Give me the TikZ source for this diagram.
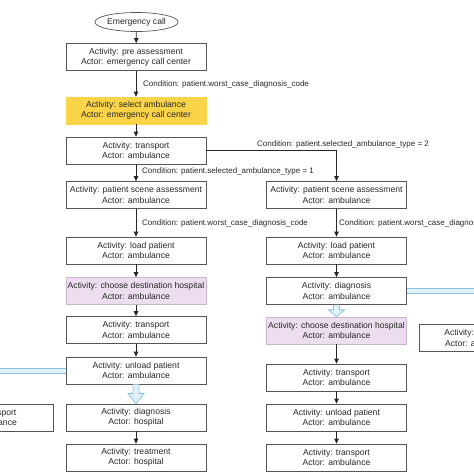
\documentclass[tikz,border=0pt]{standalone}
\usepackage{fontspec}
\setmainfont{Liberation Sans}
\usetikzlibrary{arrows.meta,shapes.geometric}
\definecolor{boxline}{RGB}{85,85,85}
\definecolor{txt}{RGB}{40,40,40}
\definecolor{yel}{RGB}{250,212,72}
\definecolor{lav}{RGB}{236,222,238}
\definecolor{lavline}{RGB}{200,180,205}
\definecolor{hol}{RGB}{140,195,228}
\definecolor{holfill}{RGB}{225,241,250}
\begin{document}
\begin{tikzpicture}[x=1pt,y=-1pt,
  act/.style={draw=boxline, line width=0.7pt, fill=white, minimum width=140pt,
    minimum height=27pt, inner sep=0pt, align=center,
    font=\fontsize{8.6}{10.4}\selectfont, text=txt},
  yelbox/.style={act, fill=yel, draw=yel},
  lavbox/.style={act, fill=lav, draw=lavline},
  startnode/.style={ellipse, draw=boxline, line width=0.7pt, minimum width=80pt,
    minimum height=19pt, inner sep=0pt, font=\fontsize{8.6}{10.4}\selectfont, text=txt},
  cond/.style={anchor=west, inner sep=0pt, font=\fontsize{8}{9.6}\selectfont, text=txt},
  arr/.style={draw=black!85, line width=0.7pt, -{Triangle[length=5pt,width=4.5pt]}},
  hollowline/.style={draw=hol, line width=0.8pt, double=holfill, double distance=3.5pt},
  hollowhead/.style={draw=hol, line width=0.8pt, fill=holfill, line join=miter}
]
\clip (0,0) rectangle (474,474);
\fill[white] (0,0) rectangle (474,474);

% left column
\node[startnode] (e) at (136.5,22) {Emergency call};
\node[act] (pa) at (136,57) {Activity: pre assessment\\Actor: emergency call center};
\node[yelbox] (sa) at (136,110.5) {Activity: select ambulance\\Actor: emergency call center};
\node[act] (t1) at (136,150.5) {Activity: transport\\Actor: ambulance};
\node[act] (lpsa) at (136,195) {Activity: patient scene assessment\\Actor: ambulance};
\node[act] (llp) at (136,250.5) {Activity: load patient\\Actor: ambulance};
\node[lavbox] (lcd) at (136,291) {Activity: choose destination hospital\\Actor: ambulance};
\node[act] (lt) at (136,330) {Activity: transport\\Actor: ambulance};
\node[act] (lu) at (136,370.5) {Activity: unload patient\\Actor: ambulance};
\node[act] (ldg) at (136,417.5) {Activity: diagnosis\\Actor: hospital};
\node[act] (ltr) at (136,457.5) {Activity: treatment\\Actor: hospital};

% right column
\node[act] (rpsa) at (336.5,195) {Activity: patient scene assessment\\Actor: ambulance};
\node[act] (rlp) at (336.5,250.5) {Activity: load patient\\Actor: ambulance};
\node[act] (rdg) at (336.5,291) {Activity: diagnosis\\Actor: ambulance};
\node[lavbox] (rcd) at (336.5,330.5) {Activity: choose destination hospital\\Actor: ambulance};
\node[act] (rt) at (336.5,377.5) {Activity: transport\\Actor: ambulance};
\node[act] (ru) at (336.5,417.5) {Activity: unload patient\\Actor: ambulance};
\node[act] (rt2) at (336.5,457.5) {Activity: transport\\Actor: ambulance};

% partial boxes at the edges
\node[act] (lx) at (-17,417.5) {Activity: transport\\Actor: ambulance};
\node[act, minimum width=120pt] (rx) at (479,338) {Activity: treatment\\Actor: ambulance};

% connectors
\draw[arr] (e) -- (pa);
\draw[arr] (pa) -- (sa);
\draw[arr] (sa) -- (t1);
\draw[arr] (t1) -- (lpsa);
\draw[arr] (t1.east) -| (rpsa.north);
\draw[arr] (lpsa) -- (llp);
\draw[arr] (llp) -- (lcd);
\draw[arr] (lcd) -- (lt);
\draw[arr] (lt) -- (lu);
\draw[arr] (ldg) -- (ltr);
\draw[arr] (rpsa) -- (rlp);
\draw[arr] (rlp) -- (rdg);
\draw[arr] (rcd) -- (rt);
\draw[arr] (rt) -- (ru);
\draw[arr] (ru) -- (rt2);

% condition labels
\node[cond] (c1) at (143,84) {Condition: patient.worst\_case\_diagnosis\_code};
\node[cond] (c2) at (257,144) {Condition: patient.selected\_ambulance\_type = 2};
\node[cond] (c3) at (142,171) {Condition: patient.selected\_ambulance\_type = 1};
\node[cond] (c4) at (142,223) {Condition: patient.worst\_case\_diagnosis\_code};
\node[cond] (c5) at (339,223) {Condition: patient.worst\_case\_diagnosis\_code};

% hollow connectors
\coordinate (rexit) at (490,291);
\coordinate (lentry) at (-10,371);
\draw[hollowline] (rdg.east) -- (rexit);
\draw[hollowline] (lentry) -- (lu.west |- lentry);
\draw[hollowhead] ([xshift=-3pt]lu.south) -- ([xshift=-3pt,yshift=-9pt]lu.south)
  -- ([xshift=-8pt,yshift=-9pt]lu.south) -- (ldg.north)
  -- ([xshift=8pt,yshift=-9pt]lu.south) -- ([xshift=3pt,yshift=-9pt]lu.south)
  -- ([xshift=3pt]lu.south);
\draw[hollowhead] ([xshift=-3pt]rdg.south) -- ([xshift=-3pt,yshift=-5pt]rdg.south)
  -- ([xshift=-8pt,yshift=-5pt]rdg.south) -- (rcd.north)
  -- ([xshift=8pt,yshift=-5pt]rdg.south) -- ([xshift=3pt,yshift=-5pt]rdg.south)
  -- ([xshift=3pt]rdg.south);
\end{tikzpicture}
\end{document}
